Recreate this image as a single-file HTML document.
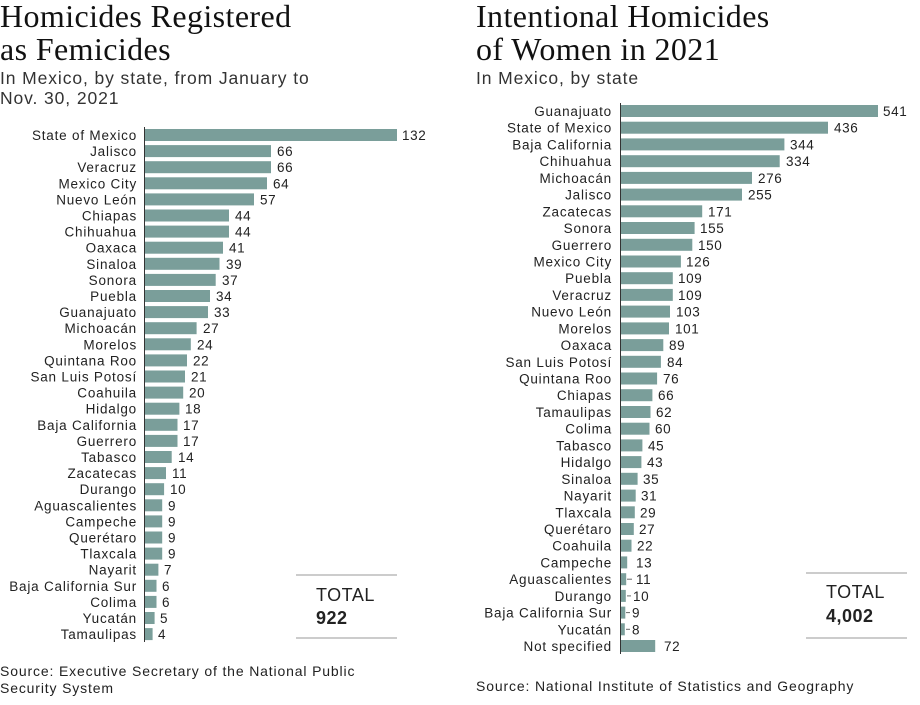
<!DOCTYPE html>
<html><head><meta charset="utf-8"><style>
body{margin:0;background:#fff;width:920px;height:705px;overflow:hidden}
svg{display:block}
.t{font-family:"Liberation Serif",serif;font-size:32px;fill:#111;letter-spacing:0.4px}
.s{font-family:"Liberation Sans",sans-serif;font-size:17.5px;fill:#333;letter-spacing:0.9px}
.l{font-family:"Liberation Sans",sans-serif;font-size:13.5px;fill:#222;text-anchor:end;letter-spacing:0.8px}
.v{font-family:"Liberation Sans",sans-serif;font-size:13.5px;fill:#222;letter-spacing:0.6px}
.src{font-family:"Liberation Sans",sans-serif;font-size:14px;fill:#222;letter-spacing:0.85px}
.tot{font-family:"Liberation Sans",sans-serif;font-size:18px;fill:#222;letter-spacing:0.5px}
rect{fill:#7a9e9a}
</style></head><body>
<svg width="920" height="705" xmlns="http://www.w3.org/2000/svg">
<text class="t" x="0" y="27">Homicides Registered</text>
<text class="t" x="0" y="60">as Femicides</text>
<text class="s" x="0" y="84">In Mexico, by state, from January to</text>
<text class="s" x="0" y="104">Nov. 30, 2021</text>
<text class="t" x="476" y="27">Intentional Homicides</text>
<text class="t" x="476" y="60">of Women in 2021</text>
<text class="s" x="476" y="84">In Mexico, by state</text>

<line x1="144.5" y1="127" x2="144.5" y2="642" stroke="#333" stroke-width="1"/>
<g transform="translate(0,135)"><text class="l" x="137" y="5">State of Mexico</text><rect x="145" y="-6" width="252" height="12"/><text class="v" x="402" y="5">132</text></g>
<g transform="translate(0,151.1)"><text class="l" x="137" y="5">Jalisco</text><rect x="145" y="-6" width="126" height="12"/><text class="v" x="277" y="5">66</text></g>
<g transform="translate(0,167.2)"><text class="l" x="137" y="5">Veracruz</text><rect x="145" y="-6" width="126" height="12"/><text class="v" x="277" y="5">66</text></g>
<g transform="translate(0,183.3)"><text class="l" x="137" y="5">Mexico City</text><rect x="145" y="-6" width="122" height="12"/><text class="v" x="273" y="5">64</text></g>
<g transform="translate(0,199.4)"><text class="l" x="137" y="5">Nuevo León</text><rect x="145" y="-6" width="109" height="12"/><text class="v" x="260" y="5">57</text></g>
<g transform="translate(0,215.5)"><text class="l" x="137" y="5">Chiapas</text><rect x="145" y="-6" width="84" height="12"/><text class="v" x="235" y="5">44</text></g>
<g transform="translate(0,231.6)"><text class="l" x="137" y="5">Chihuahua</text><rect x="145" y="-6" width="84" height="12"/><text class="v" x="235" y="5">44</text></g>
<g transform="translate(0,247.7)"><text class="l" x="137" y="5">Oaxaca</text><rect x="145" y="-6" width="78" height="12"/><text class="v" x="229" y="5">41</text></g>
<g transform="translate(0,263.8)"><text class="l" x="137" y="5">Sinaloa</text><rect x="145" y="-6" width="74.5" height="12"/><text class="v" x="226" y="5">39</text></g>
<g transform="translate(0,279.9)"><text class="l" x="137" y="5">Sonora</text><rect x="145" y="-6" width="70.7" height="12"/><text class="v" x="222" y="5">37</text></g>
<g transform="translate(0,296)"><text class="l" x="137" y="5">Puebla</text><rect x="145" y="-6" width="65" height="12"/><text class="v" x="216" y="5">34</text></g>
<g transform="translate(0,312.1)"><text class="l" x="137" y="5">Guanajuato</text><rect x="145" y="-6" width="63" height="12"/><text class="v" x="214" y="5">33</text></g>
<g transform="translate(0,328.2)"><text class="l" x="137" y="5">Michoacán</text><rect x="145" y="-6" width="51.6" height="12"/><text class="v" x="203" y="5">27</text></g>
<g transform="translate(0,344.3)"><text class="l" x="137" y="5">Morelos</text><rect x="145" y="-6" width="45.8" height="12"/><text class="v" x="197" y="5">24</text></g>
<g transform="translate(0,360.4)"><text class="l" x="137" y="5">Quintana Roo</text><rect x="145" y="-6" width="42" height="12"/><text class="v" x="193" y="5">22</text></g>
<g transform="translate(0,376.5)"><text class="l" x="137" y="5">San Luis Potosí</text><rect x="145" y="-6" width="40" height="12"/><text class="v" x="191" y="5">21</text></g>
<g transform="translate(0,392.6)"><text class="l" x="137" y="5">Coahuila</text><rect x="145" y="-6" width="38.2" height="12"/><text class="v" x="189" y="5">20</text></g>
<g transform="translate(0,408.7)"><text class="l" x="137" y="5">Hidalgo</text><rect x="145" y="-6" width="34.4" height="12"/><text class="v" x="185" y="5">18</text></g>
<g transform="translate(0,424.8)"><text class="l" x="137" y="5">Baja California</text><rect x="145" y="-6" width="32.5" height="12"/><text class="v" x="183" y="5">17</text></g>
<g transform="translate(0,440.9)"><text class="l" x="137" y="5">Guerrero</text><rect x="145" y="-6" width="32.5" height="12"/><text class="v" x="183" y="5">17</text></g>
<g transform="translate(0,457)"><text class="l" x="137" y="5">Tabasco</text><rect x="145" y="-6" width="26.7" height="12"/><text class="v" x="178" y="5">14</text></g>
<g transform="translate(0,473.1)"><text class="l" x="137" y="5">Zacatecas</text><rect x="145" y="-6" width="21" height="12"/><text class="v" x="172" y="5">11</text></g>
<g transform="translate(0,489.2)"><text class="l" x="137" y="5">Durango</text><rect x="145" y="-6" width="19.1" height="12"/><text class="v" x="170" y="5">10</text></g>
<g transform="translate(0,505.3)"><text class="l" x="137" y="5">Aguascalientes</text><rect x="145" y="-6" width="17.2" height="12"/><text class="v" x="168" y="5">9</text></g>
<g transform="translate(0,521.4)"><text class="l" x="137" y="5">Campeche</text><rect x="145" y="-6" width="17.2" height="12"/><text class="v" x="168" y="5">9</text></g>
<g transform="translate(0,537.5)"><text class="l" x="137" y="5">Querétaro</text><rect x="145" y="-6" width="17.2" height="12"/><text class="v" x="168" y="5">9</text></g>
<g transform="translate(0,553.6)"><text class="l" x="137" y="5">Tlaxcala</text><rect x="145" y="-6" width="17.2" height="12"/><text class="v" x="168" y="5">9</text></g>
<g transform="translate(0,569.7)"><text class="l" x="137" y="5">Nayarit</text><rect x="145" y="-6" width="13.4" height="12"/><text class="v" x="164" y="5">7</text></g>
<g transform="translate(0,585.8)"><text class="l" x="137" y="5">Baja California Sur</text><rect x="145" y="-6" width="11.5" height="12"/><text class="v" x="162" y="5">6</text></g>
<g transform="translate(0,601.9)"><text class="l" x="137" y="5">Colima</text><rect x="145" y="-6" width="11.5" height="12"/><text class="v" x="162" y="5">6</text></g>
<g transform="translate(0,618)"><text class="l" x="137" y="5">Yucatán</text><rect x="145" y="-6" width="9.6" height="12"/><text class="v" x="160" y="5">5</text></g>
<g transform="translate(0,634.1)"><text class="l" x="137" y="5">Tamaulipas</text><rect x="145" y="-6" width="7.6" height="12"/><text class="v" x="158" y="5">4</text></g>

<line x1="296" y1="575" x2="397" y2="575" stroke="#999"/>
<line x1="296" y1="638" x2="397" y2="638" stroke="#999"/>
<text class="tot" x="316" y="601">TOTAL</text>
<text class="tot" x="316" y="624" font-weight="bold">922</text>
<text class="src" x="0" y="676">Source: Executive Secretary of the National Public</text>
<text class="src" x="0" y="693">Security System</text>

<line x1="620.5" y1="103" x2="620.5" y2="654" stroke="#333" stroke-width="1"/>
<g transform="translate(0,111)"><text class="l" x="612" y="5">Guanajuato</text><rect x="621" y="-6" width="257" height="12"/><text class="v" x="883" y="5">541</text></g>
<g transform="translate(0,127.7)"><text class="l" x="612" y="5">State of Mexico</text><rect x="621" y="-6" width="207" height="12"/><text class="v" x="834" y="5">436</text></g>
<g transform="translate(0,144.4)"><text class="l" x="612" y="5">Baja California</text><rect x="621" y="-6" width="163.4" height="12"/><text class="v" x="790" y="5">344</text></g>
<g transform="translate(0,161.2)"><text class="l" x="612" y="5">Chihuahua</text><rect x="621" y="-6" width="158.7" height="12"/><text class="v" x="786" y="5">334</text></g>
<g transform="translate(0,177.9)"><text class="l" x="612" y="5">Michoacán</text><rect x="621" y="-6" width="131" height="12"/><text class="v" x="758" y="5">276</text></g>
<g transform="translate(0,194.6)"><text class="l" x="612" y="5">Jalisco</text><rect x="621" y="-6" width="121" height="12"/><text class="v" x="748" y="5">255</text></g>
<g transform="translate(0,211.3)"><text class="l" x="612" y="5">Zacatecas</text><rect x="621" y="-6" width="81.2" height="12"/><text class="v" x="708" y="5">171</text></g>
<g transform="translate(0,228)"><text class="l" x="612" y="5">Sonora</text><rect x="621" y="-6" width="73.6" height="12"/><text class="v" x="700" y="5">155</text></g>
<g transform="translate(0,244.8)"><text class="l" x="612" y="5">Guerrero</text><rect x="621" y="-6" width="71.3" height="12"/><text class="v" x="698" y="5">150</text></g>
<g transform="translate(0,261.5)"><text class="l" x="612" y="5">Mexico City</text><rect x="621" y="-6" width="59.9" height="12"/><text class="v" x="686" y="5">126</text></g>
<g transform="translate(0,278.2)"><text class="l" x="612" y="5">Puebla</text><rect x="621" y="-6" width="51.8" height="12"/><text class="v" x="678" y="5">109</text></g>
<g transform="translate(0,294.9)"><text class="l" x="612" y="5">Veracruz</text><rect x="621" y="-6" width="51.8" height="12"/><text class="v" x="678" y="5">109</text></g>
<g transform="translate(0,311.6)"><text class="l" x="612" y="5">Nuevo León</text><rect x="621" y="-6" width="49" height="12"/><text class="v" x="676" y="5">103</text></g>
<g transform="translate(0,328.4)"><text class="l" x="612" y="5">Morelos</text><rect x="621" y="-6" width="48" height="12"/><text class="v" x="675" y="5">101</text></g>
<g transform="translate(0,345.1)"><text class="l" x="612" y="5">Oaxaca</text><rect x="621" y="-6" width="42.3" height="12"/><text class="v" x="669" y="5">89</text></g>
<g transform="translate(0,361.8)"><text class="l" x="612" y="5">San Luis Potosí</text><rect x="621" y="-6" width="39.9" height="12"/><text class="v" x="667" y="5">84</text></g>
<g transform="translate(0,378.5)"><text class="l" x="612" y="5">Quintana Roo</text><rect x="621" y="-6" width="36.1" height="12"/><text class="v" x="663" y="5">76</text></g>
<g transform="translate(0,395.2)"><text class="l" x="612" y="5">Chiapas</text><rect x="621" y="-6" width="31.4" height="12"/><text class="v" x="658" y="5">66</text></g>
<g transform="translate(0,412)"><text class="l" x="612" y="5">Tamaulipas</text><rect x="621" y="-6" width="29.5" height="12"/><text class="v" x="656" y="5">62</text></g>
<g transform="translate(0,428.7)"><text class="l" x="612" y="5">Colima</text><rect x="621" y="-6" width="28.5" height="12"/><text class="v" x="655" y="5">60</text></g>
<g transform="translate(0,445.4)"><text class="l" x="612" y="5">Tabasco</text><rect x="621" y="-6" width="21.4" height="12"/><text class="v" x="648" y="5">45</text></g>
<g transform="translate(0,462.1)"><text class="l" x="612" y="5">Hidalgo</text><rect x="621" y="-6" width="20.4" height="12"/><text class="v" x="647" y="5">43</text></g>
<g transform="translate(0,478.8)"><text class="l" x="612" y="5">Sinaloa</text><rect x="621" y="-6" width="16.6" height="12"/><text class="v" x="643" y="5">35</text></g>
<g transform="translate(0,495.6)"><text class="l" x="612" y="5">Nayarit</text><rect x="621" y="-6" width="14.7" height="12"/><text class="v" x="641" y="5">31</text></g>
<g transform="translate(0,512.3)"><text class="l" x="612" y="5">Tlaxcala</text><rect x="621" y="-6" width="13.8" height="12"/><text class="v" x="640" y="5">29</text></g>
<g transform="translate(0,529)"><text class="l" x="612" y="5">Querétaro</text><rect x="621" y="-6" width="12.8" height="12"/><text class="v" x="639" y="5">27</text></g>
<g transform="translate(0,545.7)"><text class="l" x="612" y="5">Coahuila</text><rect x="621" y="-6" width="10.5" height="12"/><text class="v" x="637" y="5">22</text></g>
<g transform="translate(0,562.4)"><text class="l" x="612" y="5">Campeche</text><rect x="621" y="-6" width="6.2" height="12"/><text class="v" x="636" y="5">13</text></g>
<g transform="translate(0,579.2)"><text class="l" x="612" y="5">Aguascalientes</text><rect x="621" y="-6" width="5.2" height="12"/><line x1="627" y1="0" x2="632" y2="0" stroke="#666"/><text class="v" x="636" y="5">11</text></g>
<g transform="translate(0,595.9)"><text class="l" x="612" y="5">Durango</text><rect x="621" y="-6" width="4.8" height="12"/><line x1="627" y1="0" x2="631" y2="0" stroke="#666"/><text class="v" x="633" y="5">10</text></g>
<g transform="translate(0,612.6)"><text class="l" x="612" y="5">Baja California Sur</text><rect x="621" y="-6" width="4.3" height="12"/><line x1="626" y1="0" x2="630" y2="0" stroke="#666"/><text class="v" x="632" y="5">9</text></g>
<g transform="translate(0,629.3)"><text class="l" x="612" y="5">Yucatán</text><rect x="621" y="-6" width="3.8" height="12"/><line x1="626" y1="0" x2="630" y2="0" stroke="#666"/><text class="v" x="632" y="5">8</text></g>
<g transform="translate(0,646)"><text class="l" x="612" y="5">Not specified</text><rect x="621" y="-6" width="34.2" height="12"/><text class="v" x="664" y="5">72</text></g>

<line x1="806" y1="573" x2="907" y2="573" stroke="#999"/>
<line x1="806" y1="638" x2="907" y2="638" stroke="#999"/>
<text class="tot" x="826" y="598">TOTAL</text>
<text class="tot" x="826" y="622" font-weight="bold">4,002</text>
<text class="src" x="476" y="691">Source: National Institute of Statistics and Geography</text>
</svg>
</body></html>
